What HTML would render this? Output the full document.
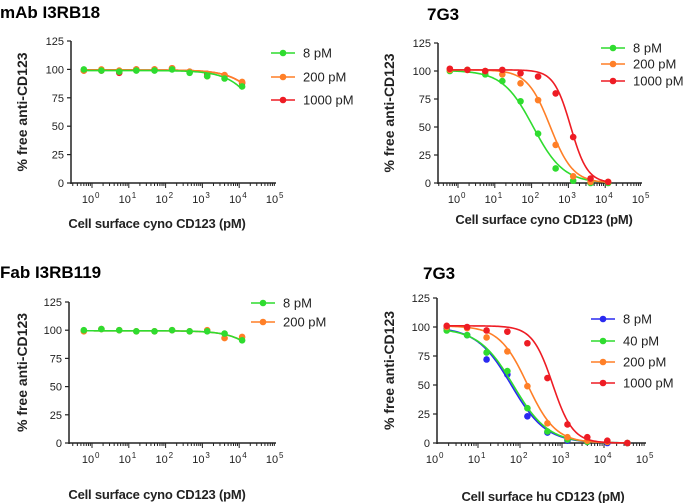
<!DOCTYPE html>
<html><head><meta charset="utf-8"><style>
html,body{margin:0;padding:0;background:#fff;}
svg{display:block;font-family:"Liberation Sans",Arial,sans-serif;}
</style></head><body>
<svg id="c" width="685" height="503" viewBox="0 0 685 503"></svg>
<script>
// ---- data ----
const xCyno = [0.6,1.8,5.5,16,50,150,450,1350,4000,12000];
const xHu = [1.8,5.5,16,50,150,450,1350,4000,12000,36000];
const yTicks = [0,25,50,75,100,125];
const xTickExps = [0,1,2,3,4,5];

const p1Labels = ["8 pM","200 pM","1000 pM"];
const p1_8 = [100,99,98,99,99,100,97,94,92,85];
const p1_200 = [99,100,99,100,100,101,98,94,95,89];
const p1_1000 = [99,99,97,100,100,101,98,96,94,88];
const p1Fit = [[99,0,60000,1],[99.5,0,90000,1],[99.5,0,90000,1]];

const p2Labels = ["8 pM","200 pM","1000 pM"];
const p2_8 = [100,101,97,91,73,44,13,2,0,0];
const p2_200 = [101,101,100,97,89,74,34,6,1,1];
const p2_1000 = [102,101,100,101,98,95,80,41,4,1];
const p2Fit = [[100.5,0,110,1.05],[101,0,320,1.4],[101,0,1150,1.9]];

const p3Labels = ["8 pM","200 pM"];
const p3_8 = [100,101,100,99,99,100,99,99,97,91];
const p3_200 = [99,101,100,99,99,100,99,100,93,94];
const p3Fit = [[99.5,0,120000,1],[99.5,0,120000,1]];

const p4Labels = ["8 pM","40 pM","200 pM","1000 pM"];
const p4_8 = [99,93,72,59,23,9,2,1,0,0];
const p4_40 = [97,93,78,62,30,10,3,1,1,0];
const p4_200 = [100,99,91,79,49,17,5,2,1,0];
const p4_1000 = [101,100,97,96,86,56,16,5,2,0];
const p4Fit = [[100,0,62,1.05],[99,0,70,1.05],[101,0,150,1.3],[101,0,600,1.8]];

const GREEN="#2fdc2f", ORANGE="#ff7f27", RED="#ee1c24", BLUE="#2a2af0";

const svg=document.getElementById('c');
const NS="http://www.w3.org/2000/svg";
function mk(tag,attrs,parent){const e=document.createElementNS(NS,tag);for(const k in attrs)e.setAttribute(k,attrs[k]);(parent||svg).appendChild(e);return e;}

function panel(cfg){
  const g=mk('g',{});
  
  
  const sx=v=>cfg.x0+Math.log10(v)*cfg.dec;
  const sy=v=>cfg.y0-(v/125)*(cfg.y0-cfg.y125);
  const t=mk('text',{x:cfg.tx,y:cfg.ty,'font-size':17,'font-weight':'bold',fill:'#000'},g);t.textContent=cfg.title;
  
  
  const ax=mk('line',{x1:cfg.ax,y1:cfg.y125,x2:cfg.ax,y2:cfg.y0+1,stroke:'#222','stroke-width':1.5},g);
  
  
  const xa=mk('line',{x1:cfg.ax,y1:cfg.y0,x2:sx(1e5),y2:cfg.y0,stroke:'#222','stroke-width':1.5},g);
  
  
  yTicks.forEach(v=>{
    mk('line',{x1:cfg.ax-4,y1:sy(v),x2:cfg.ax,y2:sy(v),stroke:'#222','stroke-width':1.2},g);
    const l=mk('text',{x:cfg.ax-7,y:sy(v)+4,'font-size':11,'text-anchor':'end',fill:'#222'},g);l.textContent=v;
    
    
  });
  for(let e=-1;e<5;e++)for(let m=1;m<10;m++){const v=m*Math.pow(10,e);const px=sx(v);if(px<cfg.ax-0.5||px>sx(1e5)+0.5)continue;
    mk('line',{x1:px,y1:cfg.y0,x2:px,y2:cfg.y0+(m==1?5:3),stroke:'#222','stroke-width':1},g);}
  xTickExps.forEach(e=>{
    const l=mk('text',{x:sx(Math.pow(10,e))-4,y:cfg.y0+20,'font-size':11,'text-anchor':'middle',fill:'#222'},g);
    l.textContent='10';
    
    
    const s=mk('text',{x:sx(Math.pow(10,e))+3,y:cfg.y0+15,'font-size':8,fill:'#222'},g);s.textContent=e;
  });
  const yl=mk('text',{transform:`translate(${cfg.ylx},${(cfg.y0+cfg.y125)/2}) rotate(-90)`,'font-size':14,'font-weight':'bold','text-anchor':'middle',fill:'#222'},g);
  yl.textContent='% free anti-CD123';
  
  
  const xl=mk('text',{x:cfg.xlx,y:cfg.xly,'font-size':13,'font-weight':'bold','text-anchor':'middle',fill:'#222','letter-spacing':'-0.2'},g);
  xl.textContent=cfg.xtitle;
  
  
  cfg.series.forEach((s,i)=>{
    const sg=mk('g',{},g);
    
    
    const [top,bot,ic,h]=s.fit;
    let d='';
    const lo=Math.log10(s.xs[0]),hi=Math.log10(s.xs[s.xs.length-1]);
    for(let k=0;k<=120;k++){const lx=lo+(hi-lo)*k/120;const v=bot+(top-bot)/(1+Math.pow(Math.pow(10,lx)/ic,h));d+=(k?'L':'M')+sx(Math.pow(10,lx)).toFixed(2)+','+sy(v).toFixed(2);}
    const c=mk('path',{d:d,fill:'none',stroke:s.color,'stroke-width':1.6},sg);
    
    
    s.ys.forEach((v,j)=>{
      const p=mk('circle',{cx:sx(s.xs[j]),cy:sy(v),r:3.3,fill:s.color},sg);
      
      
    });
    const ly=cfg.legY[s.leg];
    const lg=mk('g',{},g);
    
    
    mk('line',{x1:cfg.legX-12,y1:ly,x2:cfg.legX+12,y2:ly,stroke:s.color,'stroke-width':1.6},lg);
    mk('circle',{cx:cfg.legX,cy:ly,r:3.3,fill:s.color},lg);
    const lt=mk('text',{x:cfg.legX+20,y:ly+4.5,'font-size':13,fill:'#222'},lg);lt.textContent=s.label;
  });
}

panel({name:'panel-mab-i3rb18',title:'mAb I3RB18',tx:0,ty:18,ax:71,x0:92,dec:36.8,y0:183,y125:41,ylx:27,xlx:157,xly:228,xtitle:'Cell surface cyno CD123 (pM)',legX:283,legY:[53,77,100],
  series:[{label:p1Labels[2],leg:2,xs:xCyno,ys:p1_1000,fit:p1Fit[2],color:RED},{label:p1Labels[1],leg:1,xs:xCyno,ys:p1_200,fit:p1Fit[1],color:ORANGE},{label:p1Labels[0],leg:0,xs:xCyno,ys:p1_8,fit:p1Fit[0],color:GREEN}]});
panel({name:'panel-7g3-cyno',title:'7G3',tx:427,ty:20,ax:438,x0:458,dec:36.8,y0:183,y125:43,ylx:394,xlx:544,xly:224,xtitle:'Cell surface cyno CD123 (pM)',legX:613,legY:[48,64,81],
  series:[{label:p2Labels[0],leg:0,xs:xCyno,ys:p2_8,fit:p2Fit[0],color:GREEN},{label:p2Labels[1],leg:1,xs:xCyno,ys:p2_200,fit:p2Fit[1],color:ORANGE},{label:p2Labels[2],leg:2,xs:xCyno,ys:p2_1000,fit:p2Fit[2],color:RED}]});
panel({name:'panel-fab-i3rb119',title:'Fab I3RB119',tx:0,ty:278,ax:69,x0:92,dec:36.8,y0:443,y125:302,ylx:27,xlx:157,xly:499,xtitle:'Cell surface cyno CD123 (pM)',legX:263,legY:[303,322],
  series:[{label:p3Labels[1],leg:1,xs:xCyno,ys:p3_200,fit:p3Fit[1],color:ORANGE},{label:p3Labels[0],leg:0,xs:xCyno,ys:p3_8,fit:p3Fit[0],color:GREEN}]});
panel({name:'panel-7g3-hu',title:'7G3',tx:423,ty:279,ax:437,x0:436,dec:42,y0:443,y125:298,ylx:394,xlx:543,xly:501,xtitle:'Cell surface hu CD123 (pM)',legX:603,legY:[319,341,362,383],
  series:[{label:p4Labels[0],leg:0,xs:xHu,ys:p4_8,fit:p4Fit[0],color:BLUE},{label:p4Labels[1],leg:1,xs:xHu,ys:p4_40,fit:p4Fit[1],color:GREEN},{label:p4Labels[2],leg:2,xs:xHu,ys:p4_200,fit:p4Fit[2],color:ORANGE},{label:p4Labels[3],leg:3,xs:xHu,ys:p4_1000,fit:p4Fit[3],color:RED}]});
</script>
</body></html>
